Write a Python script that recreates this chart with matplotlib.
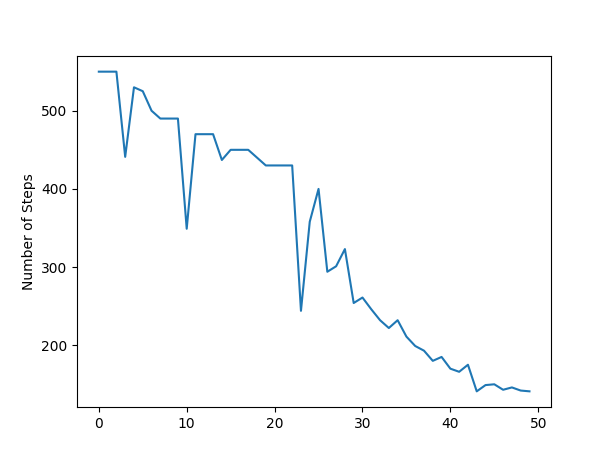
import matplotlib
matplotlib.use("Agg")
import matplotlib.pyplot as plt
from matplotlib.ticker import MultipleLocator

episodes = list(range(50))
steps = [550, 550, 550, 441, 530, 525, 500, 490, 490, 490,
         349, 470, 470, 470, 437, 450, 450, 450, 440, 430,
         430, 430, 430, 244, 358, 400, 294, 301, 323, 254,
         261, 246, 232, 222, 232, 211, 199, 193, 180, 185,
         170, 166, 175, 141, 149, 150, 143, 146, 142, 141]

fig = plt.figure(figsize=(6.11, 4.59), dpi=100)
fig.subplots_adjust(left=0.1265, right=0.9018, bottom=0.1126, top=0.8787)
ax = fig.add_subplot(111)
ax.plot(episodes, steps)
ax.yaxis.set_major_locator(MultipleLocator(100))
ax.set_ylabel("Number of Steps")
fig.savefig("out.png", dpi=100)
